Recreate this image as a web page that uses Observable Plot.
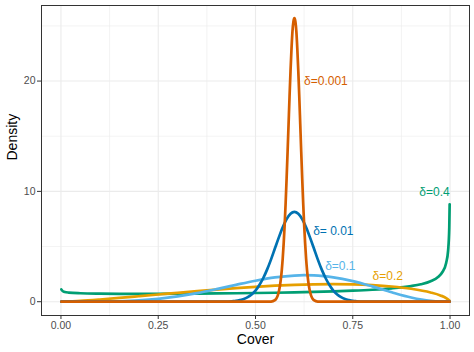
<!DOCTYPE html>
<html><head><meta charset="utf-8">
<script src="https://cdn.jsdelivr.net/npm/d3@7"></script>
<script src="https://cdn.jsdelivr.net/npm/@observablehq/plot@0.6"></script>
<style>body{margin:0;background:#fff;} svg{display:block}</style>
</head><body><div id="chart"></div>
<script>
// Series (drawn in this order)
const seriesNames = ["δ=0.4", "δ=0.2", "δ=0.1", "δ=0.01", "δ=0.001"];
const seriesColors = ["#009E73", "#E69F00", "#56B4E9", "#0072B2", "#D55E00"];

// δ = 0.4
const x04 = [0.001, 0.005, 0.01, 0.02, 0.05, 0.1, 0.15, 0.2, 0.25, 0.3, 0.35, 0.4, 0.45, 0.5, 0.55, 0.6, 0.65, 0.7, 0.75, 0.8, 0.85, 0.9, 0.925, 0.95, 0.97, 0.98, 0.99, 0.995, 0.998, 0.999];
const y04 = [1.11, 0.948, 0.886, 0.83, 0.767, 0.731, 0.719, 0.715, 0.718, 0.725, 0.735, 0.749, 0.766, 0.788, 0.814, 0.846, 0.885, 0.934, 0.998, 1.084, 1.209, 1.414, 1.582, 1.855, 2.271, 2.668, 3.517, 4.639, 6.69, 8.83];

// δ = 0.2
const x02 = [0.001, 0.05, 0.1, 0.15, 0.2, 0.25, 0.3, 0.35, 0.4, 0.45, 0.5, 0.55, 0.6, 0.65, 0.7, 0.75, 0.8, 0.85, 0.9, 0.95, 0.975, 0.99, 0.999];
const y02 = [0.0003, 0.079, 0.202, 0.344, 0.497, 0.653, 0.809, 0.96, 1.103, 1.235, 1.352, 1.45, 1.526, 1.575, 1.594, 1.573, 1.506, 1.38, 1.172, 0.834, 0.571, 0.336, 0.086];

// δ = 0.1
const x01 = [0.001, 0.05, 0.1, 0.15, 0.2, 0.25, 0.3, 0.35, 0.4, 0.45, 0.5, 0.55, 0.6, 0.625, 0.65, 0.675, 0.7, 0.75, 0.8, 0.85, 0.9, 0.95, 0.975, 0.999];
const y01 = [0, 0.0004, 0.0074, 0.038, 0.114, 0.258, 0.482, 0.783, 1.143, 1.531, 1.9, 2.198, 2.373, 2.401, 2.385, 2.322, 2.213, 1.866, 1.388, 0.858, 0.384, 0.08, 0.015, 0];

// δ = 0.01
const x001 = [0.001, 0.35, 0.4, 0.41, 0.42, 0.43, 0.44, 0.45, 0.46, 0.47, 0.48, 0.49, 0.5, 0.51, 0.52, 0.53, 0.54, 0.55, 0.56, 0.57, 0.58, 0.59, 0.6, 0.61, 0.62, 0.63, 0.64, 0.65, 0.66, 0.67, 0.68, 0.69, 0.7, 0.71, 0.72, 0.73, 0.74, 0.75, 0.76, 0.77, 0.78, 0.79, 0.8, 0.85, 0.999];
const y001 = [0, 0, 0.002, 0.004, 0.01, 0.02, 0.04, 0.07, 0.14, 0.24, 0.41, 0.66, 1.01, 1.51, 2.15, 2.93, 3.84, 4.84, 5.83, 6.75, 7.49, 7.97, 8.14, 7.97, 7.49, 6.75, 5.83, 4.84, 3.84, 2.93, 2.15, 1.51, 1.01, 0.66, 0.41, 0.24, 0.14, 0.07, 0.04, 0.02, 0.01, 0.004, 0.002, 0, 0];

// δ = 0.001
const x0001 = [0.001, 0.5, 0.54, 0.55, 0.5525, 0.555, 0.5575, 0.56, 0.5625, 0.565, 0.5675, 0.57, 0.5725, 0.575, 0.5775, 0.58, 0.5825, 0.585, 0.5875, 0.59, 0.5925, 0.595, 0.5975, 0.6, 0.6025, 0.605, 0.6075, 0.61, 0.6125, 0.615, 0.6175, 0.62, 0.6225, 0.625, 0.6275, 0.63, 0.6325, 0.635, 0.6375, 0.64, 0.6425, 0.645, 0.6475, 0.65, 0.66, 0.7, 0.999];
const y0001 = [0, 0, 0.014, 0.14, 0.234, 0.38, 0.6, 0.92, 1.38, 2.0, 2.85, 3.94, 5.33, 7.0, 8.97, 11.2, 13.6, 16.1, 18.6, 20.9, 22.9, 24.5, 25.4, 25.7, 25.4, 24.5, 22.9, 20.9, 18.6, 16.1, 13.6, 11.2, 8.97, 7.0, 5.33, 3.94, 2.85, 2.0, 1.38, 0.92, 0.6, 0.38, 0.234, 0.14, 0.014, 0, 0];

const seriesX = [x04, x02, x01, x001, x0001];
const seriesY = [y04, y02, y01, y001, y0001];

// Curve labels
const labelText = ["δ=0.001", "δ= 0.01", "δ=0.1", "δ=0.2", "δ=0.4"];
const labelSeries = ["δ=0.001", "δ=0.01", "δ=0.1", "δ=0.2", "δ=0.4"];
const labelX = [0.681, 0.70, 0.718, 0.84, 0.96];
const labelY = [20.0, 6.4, 3.2, 2.3, 9.9];

// Axes
const xTicks = [0, 0.25, 0.5, 0.75, 1];
const xMinor = [0.125, 0.375, 0.625, 0.875];
const yTicks = [0, 10, 20];
const yMinor = [5, 15, 25];

const rows = [];
seriesNames.forEach((name, i) => {
  seriesX[i].forEach((x, j) => rows.push({series: name, x, y: seriesY[i][j]}));
});
const labels = labelText.map((t, i) => ({text: t, series: labelSeries[i], x: labelX[i], y: labelY[i]}));

const grid = "#ebebeb";
const plot = Plot.plot({
  width: 474, height: 352,
  marginLeft: 41, marginRight: 5, marginTop: 5, marginBottom: 37,
  style: {fontFamily: "'Liberation Sans', Arial, Helvetica, sans-serif", background: "#fff"},
  x: {domain: [-0.05, 1.05]},
  y: {domain: [-1.25, 26.85]},
  color: {domain: seriesNames, range: seriesColors},
  marks: [
    Plot.gridX(xMinor, {stroke: grid, strokeOpacity: 1, strokeWidth: 0.6}),
    Plot.gridY(yMinor, {stroke: grid, strokeOpacity: 1, strokeWidth: 0.6}),
    Plot.gridX(xTicks, {stroke: grid, strokeOpacity: 1, strokeWidth: 1.1}),
    Plot.gridY(yTicks, {stroke: grid, strokeOpacity: 1, strokeWidth: 1.1}),
    Plot.line(rows, {x: "x", y: "y", z: "series", stroke: "series", strokeWidth: 2.7, curve: "monotone-x"}),
    Plot.text(labels, {x: "x", y: "y", text: "text", fill: "series", fontSize: 12}),
    Plot.frame({stroke: "#333", strokeWidth: 1}),
    Plot.axisX(xTicks, {tickFormat: d => d.toFixed(2), tickSize: 4, tickPadding: 2, fontSize: 10.5, fill: "#4d4d4d", stroke: "#333", label: null}),
    Plot.axisY(yTicks, {tickFormat: d => String(d), tickSize: 4, tickPadding: 2, fontSize: 10.5, fill: "#4d4d4d", stroke: "#333", label: null}),
    Plot.text(["Cover"], {text: d => d, frameAnchor: "bottom", dy: 28, fontSize: 14, fill: "#000"}),
    Plot.text(["Density"], {text: d => d, frameAnchor: "left", rotate: -90, dx: -29, fontSize: 14, fill: "#000"})
  ]
});
document.getElementById("chart").appendChild(plot);
</script>
</body></html>
